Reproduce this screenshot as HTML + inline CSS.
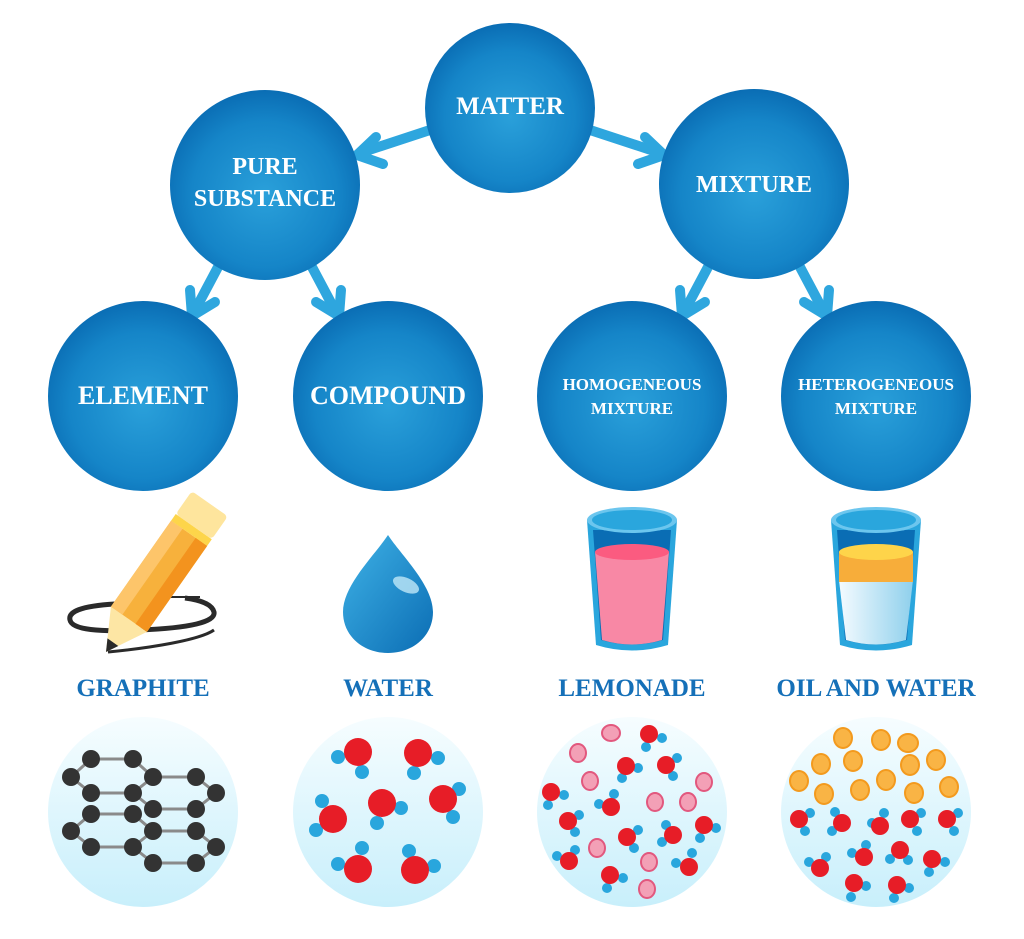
<!DOCTYPE html>
<html><head><meta charset="utf-8"><style>
html,body{margin:0;padding:0;background:#fff;}
svg{display:block;}
text{font-family:"Liberation Serif","DejaVu Serif",serif;font-weight:bold;}
</style></head><body>
<svg width="1024" height="939" viewBox="0 0 1024 939" xmlns="http://www.w3.org/2000/svg">
<defs>
<radialGradient id="bg" cx="50%" cy="55%" r="55%">
<stop offset="0" stop-color="#2aa0da"/><stop offset="0.7" stop-color="#1585c8"/><stop offset="1" stop-color="#0a6db4"/>
</radialGradient>
<linearGradient id="lb" x1="0" y1="0" x2="0" y2="1">
<stop offset="0" stop-color="#f6fdff"/><stop offset="1" stop-color="#c8effb"/>
</linearGradient>
<linearGradient id="drop" x1="0" y1="0" x2="1" y2="1">
<stop offset="0" stop-color="#3fb2e6"/><stop offset="1" stop-color="#0b6db4"/>
</linearGradient>
<linearGradient id="wat" x1="0" y1="0" x2="1" y2="0">
<stop offset="0" stop-color="#f4fbff"/><stop offset="1" stop-color="#8fd0ec"/>
</linearGradient>
</defs>

<g stroke="#2ea6de" stroke-width="10" stroke-linecap="round" stroke-linejoin="round" fill="none">
<line x1="430" y1="130" x2="360" y2="153"/><polyline points="376,137 357,155 383,164"/>
<line x1="590" y1="130" x2="660" y2="153"/><polyline points="645,137 664,155 638,164"/>
<line x1="218" y1="267" x2="193" y2="314"/><polyline points="190,290 192,316 215,302"/>
<line x1="312" y1="267" x2="337" y2="314"/><polyline points="341,290 339,316 316,302"/>
<line x1="708" y1="267" x2="683" y2="314"/><polyline points="680,290 682,316 705,302"/>
<line x1="800" y1="267" x2="825" y2="314"/><polyline points="829,290 827,316 804,302"/>
</g>

<g fill="url(#bg)">
<circle cx="510" cy="108" r="85"/>
<circle cx="265" cy="185" r="95"/>
<circle cx="754" cy="184" r="95"/>
<circle cx="143" cy="396" r="95"/>
<circle cx="388" cy="396" r="95"/>
<circle cx="632" cy="396" r="95"/>
<circle cx="876" cy="396" r="95"/>
</g>
<g fill="#fff" text-anchor="middle">
<text x="510" y="114" font-size="25">MATTER</text>
<text x="265" y="174" font-size="24">PURE</text>
<text x="265" y="206" font-size="24">SUBSTANCE</text>
<text x="754" y="192" font-size="24">MIXTURE</text>
<text x="143" y="404" font-size="26">ELEMENT</text>
<text x="388" y="404" font-size="26">COMPOUND</text>
<text x="632" y="390" font-size="17">HOMOGENEOUS</text>
<text x="632" y="414" font-size="17">MIXTURE</text>
<text x="876" y="390" font-size="17">HETEROGENEOUS</text>
<text x="876" y="414" font-size="17">MIXTURE</text>
</g>

<g fill="#1570b8" text-anchor="middle" font-size="25">
<text x="143" y="696">GRAPHITE</text>
<text x="388" y="696">WATER</text>
<text x="632" y="696">LEMONADE</text>
<text x="876" y="696">OIL AND WATER</text>
</g>

<!-- pencil -->
<path d="M115,604 C80,606 68,612 70,620 C72,630 100,632 140,630 C190,628 216,622 214,612 C212,604 200,600 185,598" fill="none" stroke="#2a2a2a" stroke-width="5"/>
<path d="M108,652 C150,648 200,640 214,630" fill="none" stroke="#2a2a2a" stroke-width="3"/>
<path d="M145,597 L200,597" fill="none" stroke="#2a2a2a" stroke-width="2"/>
<g transform="translate(106,652) rotate(-55)">
<polygon points="0,0 40,-22 40,22" fill="#fde6a4"/>
<polygon points="0,0 12,-6.6 12,6.6" fill="#2a2a2a"/>
<rect x="40" y="-22" width="105" height="44" fill="#f7b13c"/>
<rect x="40" y="-22" width="105" height="14" fill="#fdc56a"/>
<rect x="40" y="8" width="105" height="14" fill="#f3931e"/>
<rect x="145" y="-22" width="8" height="44" fill="#fdd54a"/>
<rect x="153" y="-22" width="28" height="44" rx="4" fill="#fee59d"/>
</g>

<path d="M388,535 C375,555 343,585 343,612 C343,636 363,653 388,653 C413,653 433,636 433,612 C433,585 401,555 388,535 Z" fill="url(#drop)"/>
<ellipse cx="406" cy="585" rx="14" ry="7" fill="#bfe7f8" opacity="0.8" transform="rotate(25 406 585)"/>

<path d="M587,520 L596,645 Q632,656 668,645 L677,520 Z" fill="#2aa6dd"/>
<path d="M593,530 L601,640 Q632,649 663,640 L671,530 Z" fill="#0a6db4"/>
<path d="M595,552 L602,640 Q632,649 662,640 L669,552 Z" fill="#f888a5"/>
<ellipse cx="632" cy="552" rx="37" ry="8" fill="#fb5b80"/>
<ellipse cx="632" cy="520" rx="45" ry="13" fill="#6cc6ee"/>
<ellipse cx="632" cy="520" rx="40" ry="10" fill="#2aa6dd"/>

<path d="M831,520 L840,645 Q876,656 912,645 L921,520 Z" fill="#2aa6dd"/>
<path d="M837,530 L845,640 Q876,649 907,640 L915,530 Z" fill="#0a6db4"/>
<path d="M839,580 L846,640 Q876,649 906,640 L913,580 Z" fill="url(#wat)"/>
<rect x="839" y="552" width="74" height="30" fill="#f7ad3a"/>
<ellipse cx="876" cy="552" rx="37" ry="8" fill="#fed44a"/>
<ellipse cx="876" cy="520" rx="45" ry="13" fill="#6cc6ee"/>
<ellipse cx="876" cy="520" rx="40" ry="10" fill="#2aa6dd"/>

<g fill="url(#lb)">
<circle cx="143" cy="812" r="95"/>
<circle cx="388" cy="812" r="95"/>
<circle cx="632" cy="812" r="95"/>
<circle cx="876" cy="812" r="95"/>
</g>

<g stroke="#8a8a8a" stroke-width="3" fill="none">
<polyline points="71,777 91,759 133,759 153,777 133,793 91,793 71,777"/>
<polyline points="153,777 196,777 216,793 196,809 153,809 133,793"/>
<polyline points="71,831 91,814 133,814 153,831 133,847 91,847 71,831"/>
<polyline points="153,831 196,831 216,847 196,863 153,863 133,847"/>
</g>
<g fill="#333">
<circle cx="91" cy="759" r="9"/><circle cx="133" cy="759" r="9"/><circle cx="71" cy="777" r="9"/><circle cx="91" cy="793" r="9"/><circle cx="133" cy="793" r="9"/><circle cx="153" cy="777" r="9"/><circle cx="196" cy="777" r="9"/><circle cx="216" cy="793" r="9"/><circle cx="153" cy="809" r="9"/><circle cx="196" cy="809" r="9"/>
<circle cx="91" cy="814" r="9"/><circle cx="133" cy="814" r="9"/><circle cx="71" cy="831" r="9"/><circle cx="91" cy="847" r="9"/><circle cx="133" cy="847" r="9"/><circle cx="153" cy="831" r="9"/><circle cx="196" cy="831" r="9"/><circle cx="216" cy="847" r="9"/><circle cx="153" cy="863" r="9"/><circle cx="196" cy="863" r="9"/>
</g>

<g fill="#29a6dd">
<circle cx="338" cy="757" r="7"/><circle cx="362" cy="772" r="7"/>
<circle cx="438" cy="758" r="7"/><circle cx="414" cy="773" r="7"/>
<circle cx="322" cy="801" r="7"/><circle cx="316" cy="830" r="7"/>
<circle cx="401" cy="808" r="7"/><circle cx="377" cy="823" r="7"/>
<circle cx="459" cy="789" r="7"/><circle cx="453" cy="817" r="7"/>
<circle cx="338" cy="864" r="7"/><circle cx="362" cy="848" r="7"/>
<circle cx="409" cy="851" r="7"/><circle cx="434" cy="866" r="7"/>
</g>
<g fill="#e71d27">
<circle cx="358" cy="752" r="14"/><circle cx="418" cy="753" r="14"/><circle cx="333" cy="819" r="14"/><circle cx="382" cy="803" r="14"/><circle cx="443" cy="799" r="14"/><circle cx="358" cy="869" r="14"/><circle cx="415" cy="870" r="14"/>
</g>

<g fill="#f3a0b6" stroke="#e2587e" stroke-width="2">
<ellipse cx="611" cy="733" rx="9" ry="8"/><ellipse cx="578" cy="753" rx="8" ry="9"/><ellipse cx="590" cy="781" rx="8" ry="9"/><ellipse cx="655" cy="802" rx="8" ry="9"/><ellipse cx="688" cy="802" rx="8" ry="9"/><ellipse cx="704" cy="782" rx="8" ry="9"/><ellipse cx="597" cy="848" rx="8" ry="9"/><ellipse cx="649" cy="862" rx="8" ry="9"/><ellipse cx="647" cy="889" rx="8" ry="9"/>
</g>
<g fill="#29a6dd">
<circle cx="662" cy="738" r="5"/><circle cx="646" cy="747" r="5"/>
<circle cx="638" cy="768" r="5"/><circle cx="622" cy="778" r="5"/>
<circle cx="677" cy="758" r="5"/><circle cx="673" cy="776" r="5"/>
<circle cx="564" cy="795" r="5"/><circle cx="548" cy="805" r="5"/>
<circle cx="614" cy="794" r="5"/><circle cx="599" cy="804" r="5"/>
<circle cx="579" cy="815" r="5"/><circle cx="575" cy="832" r="5"/>
<circle cx="638" cy="830" r="5"/><circle cx="634" cy="848" r="5"/>
<circle cx="666" cy="825" r="5"/><circle cx="662" cy="842" r="5"/>
<circle cx="716" cy="828" r="5"/><circle cx="700" cy="838" r="5"/>
<circle cx="575" cy="850" r="5"/><circle cx="557" cy="856" r="5"/>
<circle cx="623" cy="878" r="5"/><circle cx="607" cy="888" r="5"/>
<circle cx="692" cy="853" r="5"/><circle cx="676" cy="863" r="5"/>
</g>
<g fill="#e71d27">
<circle cx="649" cy="734" r="9"/><circle cx="626" cy="766" r="9"/><circle cx="666" cy="765" r="9"/><circle cx="551" cy="792" r="9"/><circle cx="611" cy="807" r="9"/><circle cx="568" cy="821" r="9"/><circle cx="627" cy="837" r="9"/><circle cx="673" cy="835" r="9"/><circle cx="704" cy="825" r="9"/><circle cx="569" cy="861" r="9"/><circle cx="610" cy="875" r="9"/><circle cx="689" cy="867" r="9"/>
</g>

<g fill="#f9b445" stroke="#f39a1e" stroke-width="2">
<ellipse cx="843" cy="738" rx="9" ry="10"/><ellipse cx="881" cy="740" rx="9" ry="10"/><ellipse cx="908" cy="743" rx="10" ry="9"/><ellipse cx="821" cy="764" rx="9" ry="10"/><ellipse cx="853" cy="761" rx="9" ry="10"/><ellipse cx="910" cy="765" rx="9" ry="10"/><ellipse cx="936" cy="760" rx="9" ry="10"/><ellipse cx="799" cy="781" rx="9" ry="10"/><ellipse cx="824" cy="794" rx="9" ry="10"/><ellipse cx="860" cy="790" rx="9" ry="10"/><ellipse cx="886" cy="780" rx="9" ry="10"/><ellipse cx="914" cy="793" rx="9" ry="10"/><ellipse cx="949" cy="787" rx="9" ry="10"/>
</g>
<g fill="#29a6dd">
<circle cx="810" cy="813" r="5"/><circle cx="805" cy="831" r="5"/>
<circle cx="835" cy="812" r="5"/><circle cx="832" cy="831" r="5"/>
<circle cx="872" cy="823" r="5"/><circle cx="884" cy="813" r="5"/>
<circle cx="921" cy="813" r="5"/><circle cx="917" cy="831" r="5"/>
<circle cx="958" cy="813" r="5"/><circle cx="954" cy="831" r="5"/>
<circle cx="809" cy="862" r="5"/><circle cx="826" cy="857" r="5"/>
<circle cx="852" cy="853" r="5"/><circle cx="866" cy="845" r="5"/>
<circle cx="890" cy="859" r="5"/><circle cx="908" cy="860" r="5"/>
<circle cx="945" cy="862" r="5"/><circle cx="929" cy="872" r="5"/>
<circle cx="866" cy="886" r="5"/><circle cx="851" cy="897" r="5"/>
<circle cx="909" cy="888" r="5"/><circle cx="894" cy="898" r="5"/>
</g>
<g fill="#e71d27">
<circle cx="799" cy="819" r="9"/><circle cx="842" cy="823" r="9"/><circle cx="880" cy="826" r="9"/><circle cx="910" cy="819" r="9"/><circle cx="947" cy="819" r="9"/><circle cx="820" cy="868" r="9"/><circle cx="864" cy="857" r="9"/><circle cx="900" cy="850" r="9"/><circle cx="932" cy="859" r="9"/><circle cx="854" cy="883" r="9"/><circle cx="897" cy="885" r="9"/>
</g>
</svg>
</body></html>
